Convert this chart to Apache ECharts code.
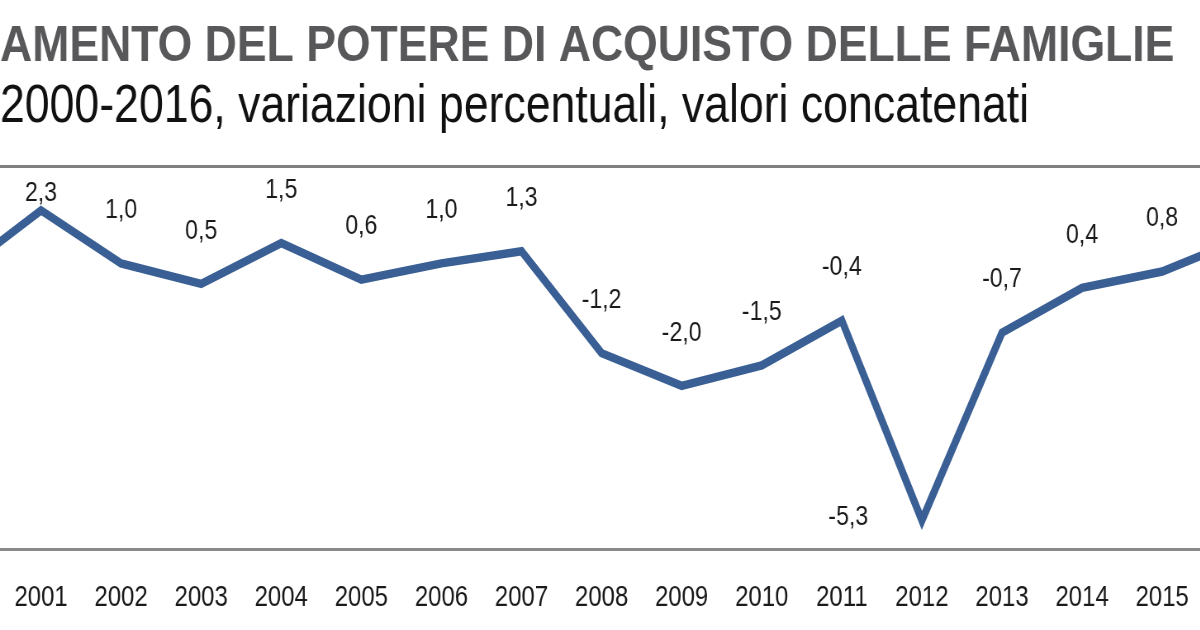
<!DOCTYPE html>
<html><head><meta charset="utf-8">
<script src="https://cdn.jsdelivr.net/npm/echarts@6/dist/echarts.min.js"></script>
<style>
html,body{margin:0;padding:0;background:#fff;overflow:hidden;width:1200px;height:630px}
#c{width:1453px;height:630px;transform:scaleX(0.826);transform-origin:0 0}
</style>
</head><body><div id="c"></div>
<script>
// ---- data ----
const titleText = 'AMENTO DEL POTERE DI ACQUISTO DELLE FAMIGLIE';
const subtitleText = '2000-2016, variazioni percentuali, valori concatenati';
const years = [2000, 2001, 2002, 2003, 2004, 2005, 2006, 2007, 2008, 2009, 2010, 2011, 2012, 2013, 2014, 2015, 2016];
const values = [0.8, 2.3, 1.0, 0.5, 1.5, 0.6, 1.0, 1.3, -1.2, -2.0, -1.5, -0.4, -5.3, -0.7, 0.4, 0.8, 1.6];
const tickYears = [2001, 2002, 2003, 2004, 2005, 2006, 2007, 2008, 2009, 2010, 2011, 2012, 2013, 2014, 2015];
const unlabeledYears = [2000, 2016];

// ---- chart ----
const fmt = v => v.toFixed(1).replace('.', ',');
const labelOverrides = {
  2001: { position: 'top', distance: 2 },
  2012: { position: 'left', distance: 64, offset: [0, -3] }
};
const seriesData = years.map((y, i) => {
  const item = { value: [y, values[i]] };
  if (unlabeledYears.includes(y)) item.label = { show: false };
  else if (labelOverrides[y]) item.label = labelOverrides[y];
  return item;
});

const lineColor = '#3a5f94';
const chart = echarts.init(document.getElementById('c'), null, { renderer: 'canvas' });
chart.setOption({
  backgroundColor: '#ffffff',
  animation: false,
  grid: { left: 0, right: 0, top: 141, bottom: 81, containLabel: false },
  xAxis: {
    type: 'value',
    min: 2000.488,
    max: 2015.475,
    axisLine: { show: true, onZero: false, lineStyle: { color: '#8a8a8a', width: 3 } },
    axisTick: { show: false, customValues: tickYears },
    axisLabel: {
      show: true, margin: 34, customValues: tickYears,
      formatter: v => String(v),
      color: '#1a1a1a', fontSize: 29,
      fontFamily: '"Liberation Sans", Arial, sans-serif'
    },
    splitLine: { show: false }
  },
  yAxis: {
    type: 'value', min: -6, max: 4, interval: 1,
    show: false, splitLine: { show: false }
  },
  graphic: [
    { type: 'text', x: 0, y: 47, scaleX: 1.079, style: {
        text: titleText, x: 0, y: 0, verticalAlign: 'middle', align: 'left',
        font: 'bold 50px "Liberation Sans", Arial, sans-serif', fill: '#58585a' } },
    { type: 'text', x: 0, y: 107, style: {
        text: subtitleText, x: 0, y: 0, verticalAlign: 'middle', align: 'left',
        font: '54px "Liberation Sans", Arial, sans-serif', fill: '#111111' } },
    { type: 'line', shape: { x1: 0, y1: 166.5, x2: 1453, y2: 166.5 },
      style: { stroke: '#7f7f7f', lineWidth: 3 } }
  ],
  series: [{
    type: 'line',
    data: seriesData,
    symbol: 'circle',
    symbolSize: 2,
    showAllSymbol: true,
    itemStyle: { color: lineColor },
    lineStyle: { color: lineColor, width: 8.5, join: 'miter', miterLimit: 3 },
    label: {
      show: true, position: 'top', distance: 38,
      formatter: p => fmt(p.value[1]),
      color: '#1a1a1a', fontSize: 28,
      fontFamily: '"Liberation Sans", Arial, sans-serif'
    },
    z: 3
  }]
});
</script></body></html>
